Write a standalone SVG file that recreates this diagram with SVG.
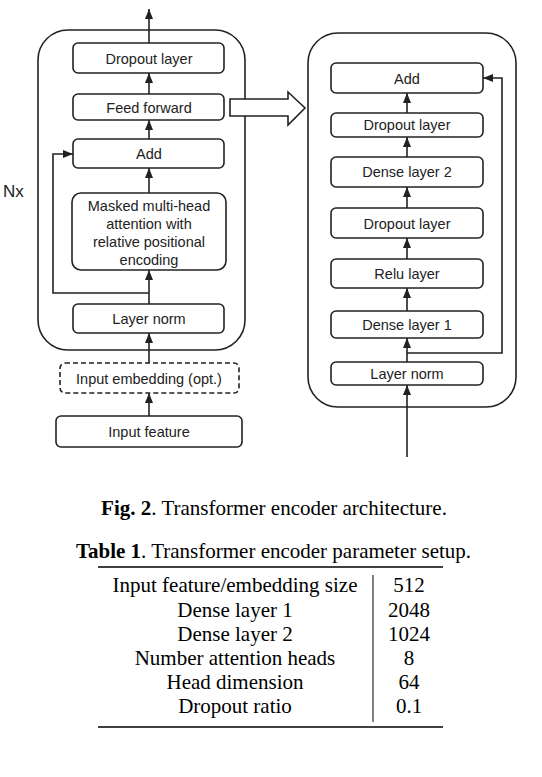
<svg xmlns="http://www.w3.org/2000/svg" width="542" height="777" viewBox="0 0 542 777">
<style>
.box{fill:#fff;stroke:#222;stroke-width:1.6}
.dash{fill:#fff;stroke:#222;stroke-width:1.6;stroke-dasharray:5,3}
.cont{fill:none;stroke:#222;stroke-width:1.6}
.lbl{font-family:"Liberation Sans",Arial,sans-serif;font-size:14.5px;fill:#222;text-anchor:middle}
.ln{fill:none;stroke:#222;stroke-width:1.6}
.serif{font-family:"Liberation Serif","Times New Roman",serif;font-size:21px;fill:#000}
.c{text-anchor:middle}
</style>
<defs>
<marker id="ah" markerUnits="userSpaceOnUse" markerWidth="10" markerHeight="8" refX="10" refY="4" orient="auto">
<path d="M0,0 L10,4 L0,8 z" fill="#222"/>
</marker>
</defs>
<rect width="542" height="777" fill="#fff"/>

<g id="left-container"><rect class="cont" x="38" y="30" width="207" height="320" rx="30"/></g>
<g id="right-container"><rect class="cont" x="308" y="33" width="208" height="374" rx="30"/></g>

<text id="nx" x="3" y="197" font-family="Liberation Sans,Arial,sans-serif" font-size="17" fill="#222">Nx</text>

<g id="connectors">
<line class="ln" x1="149" y1="416" x2="149" y2="393" marker-end="url(#ah)"/>
<line class="ln" x1="149" y1="363" x2="149" y2="333" marker-end="url(#ah)"/>
<line class="ln" x1="149" y1="304" x2="149" y2="270" marker-end="url(#ah)"/>
<polyline class="ln" points="149,293 53,293 53,154 73,154" marker-end="url(#ah)"/>
<line class="ln" x1="149" y1="193" x2="149" y2="168" marker-end="url(#ah)"/>
<line class="ln" x1="149" y1="139" x2="149" y2="120" marker-end="url(#ah)"/>
<line class="ln" x1="149" y1="94" x2="149" y2="73" marker-end="url(#ah)"/>
<line class="ln" x1="149" y1="43" x2="149" y2="9" marker-end="url(#ah)"/>

<line class="ln" x1="407" y1="457" x2="407" y2="385" marker-end="url(#ah)"/>
<line class="ln" x1="407" y1="362" x2="407" y2="338" marker-end="url(#ah)"/>
<polyline class="ln" points="407,353 502,353 502,78 483,78" marker-end="url(#ah)"/>
<line class="ln" x1="407" y1="311" x2="407" y2="288" marker-end="url(#ah)"/>
<line class="ln" x1="407" y1="259" x2="407" y2="238" marker-end="url(#ah)"/>
<line class="ln" x1="407" y1="208" x2="407" y2="187" marker-end="url(#ah)"/>
<line class="ln" x1="407" y1="157" x2="407" y2="137" marker-end="url(#ah)"/>
<line class="ln" x1="407" y1="113" x2="407" y2="93" marker-end="url(#ah)"/>

<polygon points="230,99 288,99 288,92 305,108 288,125 288,116 230,116" fill="#fff" stroke="#222" stroke-width="1.6"/>
</g>

<g id="l-dropout"><rect class="box" x="73" y="43" width="151" height="30" rx="5"/><text class="lbl" x="149" y="63.5">Dropout layer</text></g>
<g id="l-ff"><rect class="box" x="73" y="94" width="151" height="26" rx="5"/><text class="lbl" x="149" y="112.5">Feed forward</text></g>
<g id="l-add"><rect class="box" x="73" y="139" width="151" height="29" rx="5"/><text class="lbl" x="149" y="159">Add</text></g>
<g id="l-mha"><rect class="box" x="72" y="193" width="154" height="77" rx="9"/>
<text class="lbl" x="149" y="211">Masked multi-head</text>
<text class="lbl" x="149" y="229">attention with</text>
<text class="lbl" x="149" y="247">relative positional</text>
<text class="lbl" x="149" y="265">encoding</text></g>
<g id="l-norm"><rect class="box" x="73" y="304" width="151" height="29" rx="5"/><text class="lbl" x="149" y="324">Layer norm</text></g>
<g id="l-embed"><rect class="dash" x="60" y="363" width="179" height="30" rx="5"/><text class="lbl" x="149" y="383.5">Input embedding (opt.)</text></g>
<g id="l-input"><rect class="box" x="56" y="416" width="186" height="31" rx="5"/><text class="lbl" x="149" y="437">Input feature</text></g>

<g id="r-add"><rect class="box" x="331" y="63" width="152" height="30" rx="5"/><text class="lbl" x="407" y="83.5">Add</text></g>
<g id="r-dropout2"><rect class="box" x="331" y="113" width="152" height="24" rx="5"/><text class="lbl" x="407" y="130">Dropout layer</text></g>
<g id="r-dense2"><rect class="box" x="331" y="157" width="152" height="30" rx="5"/><text class="lbl" x="407" y="177">Dense layer 2</text></g>
<g id="r-dropout1"><rect class="box" x="331" y="208" width="152" height="30" rx="5"/><text class="lbl" x="407" y="228.5">Dropout layer</text></g>
<g id="r-relu"><rect class="box" x="331" y="259" width="152" height="29" rx="5"/><text class="lbl" x="407" y="279">Relu layer</text></g>
<g id="r-dense1"><rect class="box" x="331" y="311" width="152" height="27" rx="5"/><text class="lbl" x="407" y="330">Dense layer 1</text></g>
<g id="r-norm"><rect class="box" x="331" y="362" width="152" height="23" rx="5"/><text class="lbl" x="407" y="378.5">Layer norm</text></g>

<text class="serif c" x="274" y="515"><tspan font-weight="bold">Fig. 2</tspan>. Transformer encoder architecture.</text>
<text class="serif c" x="273.5" y="558"><tspan font-weight="bold">Table 1</tspan>. Transformer encoder parameter setup.</text>

<g id="table">
<line x1="98" y1="567" x2="443" y2="567" stroke="#000" stroke-width="1.3"/>
<line x1="98" y1="727" x2="443" y2="727" stroke="#000" stroke-width="1.3"/>
<line x1="373" y1="575" x2="373" y2="722" stroke="#000" stroke-width="1"/>
<text class="serif c" x="235" y="592">Input feature/embedding size</text>
<text class="serif c" x="235" y="617">Dense layer 1</text>
<text class="serif c" x="235" y="641">Dense layer 2</text>
<text class="serif c" x="235" y="665">Number attention heads</text>
<text class="serif c" x="235" y="689">Head dimension</text>
<text class="serif c" x="235" y="713">Dropout ratio</text>
<text class="serif c" x="409" y="592">512</text>
<text class="serif c" x="409" y="617">2048</text>
<text class="serif c" x="409" y="641">1024</text>
<text class="serif c" x="409" y="665">8</text>
<text class="serif c" x="409" y="689">64</text>
<text class="serif c" x="409" y="713">0.1</text>
</g>
</svg>
